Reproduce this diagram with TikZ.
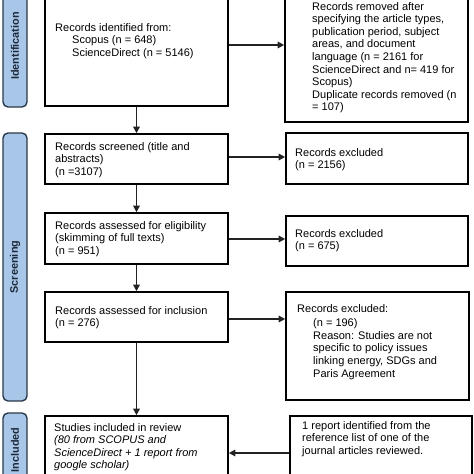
\documentclass[tikz,border=0pt]{standalone}
\usepackage{fontspec}
\setmainfont{Liberation Sans}
\usetikzlibrary{arrows.meta}
\definecolor{phasefill}{HTML}{A8C7E8}
\definecolor{phaseline}{HTML}{2B3A4A}
\definecolor{phasetext}{HTML}{1E2A3A}
\definecolor{arrowcol}{HTML}{222222}
\tikzset{
  boxnode/.style={draw=black, line width=1.6pt, rectangle, inner sep=0pt},
  phasebar/.style={draw=phaseline, fill=phasefill, line width=1.4pt, rounded corners=5pt, rectangle, inner sep=0pt, minimum width=24pt},
  phaselabel/.style={rotate=90, text=phasetext, font=\fontsize{10.9}{12}\selectfont\bfseries, inner sep=0pt},
  txt/.style={anchor=north west, inner sep=0pt, align=left, font=\fontsize{11}{12.6}\selectfont},
  arr/.style={draw=arrowcol, line width=1.4pt, -{Triangle[length=6.5pt,width=6.5pt]}}
}
\begin{document}
\begin{tikzpicture}[x=1pt,y=-1pt]
\useasboundingbox (0,0) rectangle (474,474);
\fill[white] (0,0) rectangle (474,474);
\clip (0,0) rectangle (474,474);
% phase bars
\node[phasebar, minimum height=122pt] (pid) at (15,46) {};
\node[phasebar, minimum height=268pt] (psc) at (15,267) {};
\node[phasebar, minimum height=90pt] (pin) at (15,458) {};
\node[phaselabel] (lid) at (15,46) {Identification};
\node[phaselabel] (lsc) at (15,267) {Screening};
\node[phaselabel] (lin) at (15,450) {Included};
% left boxes
\node[boxnode, minimum width=183pt, minimum height=111pt] (b1) at (136.5,50.5) {};
\node[boxnode, minimum width=183pt, minimum height=50pt] (b2) at (136.5,159) {};
\node[boxnode, minimum width=183pt, minimum height=51pt] (b3) at (136.5,238.5) {};
\node[boxnode, minimum width=183pt, minimum height=50pt] (b4) at (136.5,317) {};
\node[boxnode, minimum width=183pt, minimum height=74pt] (b5) at (136.5,453) {};
% right boxes
\node[boxnode, minimum width=183pt, minimum height=127pt] (r1) at (376.5,58.5) {};
\node[boxnode, minimum width=182pt, minimum height=51pt] (r2) at (377,158.5) {};
\node[boxnode, minimum width=182pt, minimum height=50pt] (r3) at (377,241) {};
\node[boxnode, minimum width=183pt, minimum height=108pt] (r4) at (377.5,346) {};
\node[boxnode, minimum width=182pt, minimum height=74pt] (r5) at (381,453) {};
% texts
\node[txt] (t1) at (55,23) {Records identified from:\\\hspace{17pt}Scopus (n = 648)\\\hspace{17pt}ScienceDirect (n = 5146)};
\node[txt] (t2) at (55,142) {Records screened (title and\\abstracts)\\(n =3107)};
\node[txt] (t3) at (55,221) {Records assessed for eligibility\\(skimming of full texts)\\(n = 951)};
\node[txt] (t4) at (55,306) {Records assessed for inclusion\\(n = 276)};
\node[txt] (t5) at (54,423) {Studies included in review\\\textit{(80 from SCOPUS and}\\\textit{ScienceDirect + 1 report from}\\\textit{google scholar)}};
\node[txt] (s1) at (312,2) {Records removed after\\specifying the article types,\\publication period, subject\\areas, and document\\language (n = 2161 for\\ScienceDirect and n= 419 for\\Scopus)\\Duplicate records removed (n\\= 107)};
\node[txt] (s2) at (295,148) {Records excluded\\(n = 2156)};
\node[txt] (s3) at (295,229) {Records excluded\\(n = 675)};
\node[txt] (s4) at (297,304) {Records excluded:\\[2pt]\hspace{16pt}(n = 196)\\\hspace{16pt}Reason: Studies are not\\\hspace{16pt}specific to policy issues\\\hspace{16pt}linking energy, SDGs and\\\hspace{16pt}Paris Agreement};
\node[txt] (s5) at (302,421) {1 report identified from the\\reference list of one of the\\journal articles reviewed.};
% vertical arrows
\draw[arr] (b1.south) -- (b2.north);
\draw[arr] (b2.south) -- (b3.north);
\draw[arr] (b3.south) -- (b4.north);
\draw[arr] (b4.south) -- (b5.north);
% horizontal arrows
\draw[arr] (b1.east |- 0,45) -- (r1.west |- 0,45);
\draw[arr] (b2.east |- 0,157) -- (r2.west |- 0,157);
\draw[arr] (b3.east |- 0,239) -- (r3.west |- 0,239);
\draw[arr] (b4.east |- 0,319) -- (r4.west |- 0,319);
\draw[arr] (r5.west |- 0,453) -- (b5.east |- 0,453);
\end{tikzpicture}
\end{document}
